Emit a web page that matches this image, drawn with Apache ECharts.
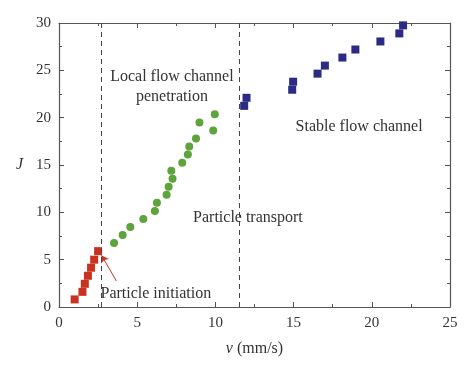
<!DOCTYPE html>
<html><head><meta charset="utf-8">
<script src="https://cdn.jsdelivr.net/npm/echarts@6/dist/echarts.min.js"></script>
<style>html,body{margin:0;padding:0;background:#fff}#c{width:474px;height:372px}</style>
</head><body><div id="c"></div>
<script>
// Particle initiation (red squares)
const initX = [1.0, 1.5, 1.65, 1.85, 2.05, 2.25, 2.5];
const initY = [0.8, 1.6, 2.45, 3.3, 4.15, 5.0, 5.9];
// Local flow channel penetration (green circles)
const penX = [3.52, 4.07, 4.56, 5.39, 6.13, 6.26, 6.88, 7.01, 7.26, 7.18, 7.88, 8.24, 8.33, 8.76, 9.86, 8.98, 9.96];
const penY = [6.75, 7.6, 8.45, 9.3, 10.15, 11.0, 11.85, 12.7, 13.55, 14.4, 15.25, 16.1, 16.95, 17.8, 18.65, 19.5, 20.35];
// Stable flow channel (navy squares)
const stabX = [11.84, 11.99, 14.91, 14.97, 16.53, 17.0, 18.12, 18.95, 20.55, 21.76, 22.0];
const stabY = [21.25, 22.1, 22.95, 23.8, 24.65, 25.5, 26.35, 27.2, 28.05, 28.9, 29.75];
// Region boundaries (dashed lines, v in mm/s)
const boundaries = [2.7, 11.5];
// Annotations [text, x, y]
const notes = [
  ['Local flow channel\npenetration', 7.22, 23.3],
  ['Particle transport', 12.08, 9.4],
  ['Stable flow channel', 19.19, 19.07],
  ['Particle initiation', 6.19, 1.42]
];
// Arrow from label to the last initiation point
const arrowFrom = [3.67, 2.75];
const arrowTo = [2.72, 5.45];
const xTicks = [0, 5, 10, 15, 20, 25];
const yTicks = [0, 5, 10, 15, 20, 25, 30];

const FONT = 'Liberation Serif';
const TXT = '#333';
const AX = '#555';
const zip = (a, b) => a.map((v, i) => [v, b[i]]);

function axisCommon() {
  return {
    show: true,
    axisLine: {show: true, onZero: false, lineStyle: {color: AX, width: 1.2}},
    axisTick: {show: true, inside: true, length: 5, lineStyle: {color: AX, width: 1}},
    minorTick: {show: true, splitNumber: 2, length: 3, lineStyle: {color: AX, width: 1}},
    splitLine: {show: false}
  };
}

const chart = echarts.init(document.getElementById('c'));
chart.setOption({
  animation: false,
  grid: {left: 59, right: 24, top: 23, bottom: 65},
  xAxis: [
    Object.assign(axisCommon(), {
      type: 'value', min: xTicks[0], max: xTicks[xTicks.length - 1], interval: 5, position: 'bottom',
      axisLabel: {color: TXT, fontFamily: FONT, fontSize: 15, margin: 9},
      name: '{i|v} (mm/s)', nameLocation: 'middle', nameGap: 34,
      nameTextStyle: {color: TXT, fontFamily: FONT, fontSize: 16,
        rich: {i: {fontStyle: 'italic', fontFamily: FONT, fontSize: 16, color: TXT}}}
    }),
    Object.assign(axisCommon(), {
      type: 'value', min: xTicks[0], max: xTicks[xTicks.length - 1], interval: 5, position: 'top',
      axisLabel: {show: false}
    })
  ],
  yAxis: [
    Object.assign(axisCommon(), {
      type: 'value', min: yTicks[0], max: yTicks[yTicks.length - 1], interval: 5, position: 'left',
      axisLabel: {color: TXT, fontFamily: FONT, fontSize: 15, margin: 8},
      name: 'J', nameLocation: 'middle', nameGap: 36, nameRotate: 0,
      nameTextStyle: {color: TXT, fontFamily: FONT, fontSize: 16, fontStyle: 'italic'}
    }),
    Object.assign(axisCommon(), {
      type: 'value', min: yTicks[0], max: yTicks[yTicks.length - 1], interval: 5, position: 'right',
      axisLabel: {show: false}
    })
  ],
  series: [
    {
      type: 'scatter', name: 'init', symbol: 'rect', symbolSize: 8,
      itemStyle: {color: '#c8321e', opacity: 1},
      data: zip(initX, initY),
      markLine: {
        silent: true, symbol: ['none', 'arrow'], symbolSize: 7,
        lineStyle: {color: '#c8321e', type: 'solid', width: 1},
        label: {show: false},
        data: [[{coord: arrowFrom}, {coord: arrowTo}]]
      }
    },
    {
      type: 'scatter', name: 'pen', symbol: 'circle', symbolSize: 8,
      itemStyle: {color: '#5ea33c', opacity: 1},
      data: zip(penX, penY),
      markLine: {
        silent: true, symbol: ['none', 'none'],
        lineStyle: {color: '#444', type: [5, 4], width: 1},
        label: {show: false},
        data: boundaries.map(b => ({xAxis: b}))
      }
    },
    {
      type: 'scatter', name: 'stab', symbol: 'rect', symbolSize: 8,
      itemStyle: {color: '#2b2a85', opacity: 1},
      data: zip(stabX, stabY),
      markPoint: {
        silent: true, symbol: 'circle', symbolSize: 0,
        label: {show: true, position: 'inside', color: TXT, fontFamily: FONT, fontSize: 16, lineHeight: 20, align: 'center', verticalAlign: 'middle'},
        data: notes.map(n => ({coord: [n[1], n[2]], value: n[0], label: {formatter: n[0]}}))
      }
    },
    {
      type: 'scatter', name: 'frame', xAxisIndex: 1, yAxisIndex: 1, silent: true,
      symbolSize: 0, itemStyle: {opacity: 0},
      data: zip(initX, initY)
    }
  ]
});
</script></body></html>
